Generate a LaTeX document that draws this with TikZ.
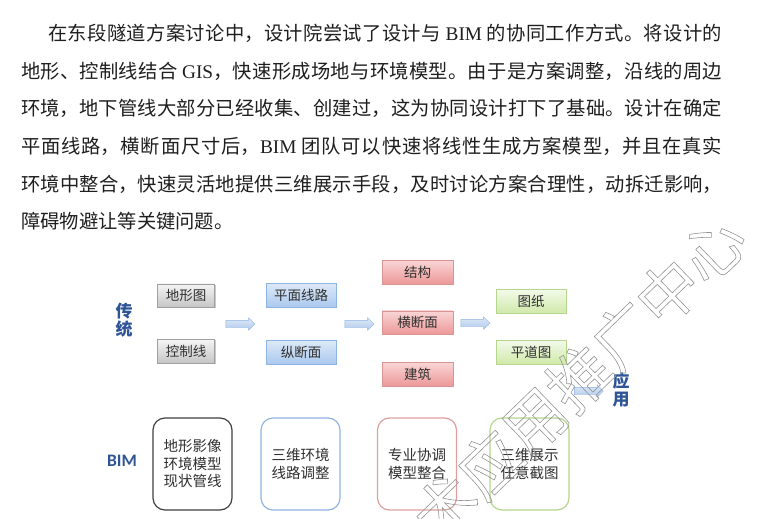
\documentclass[tikz,border=0pt]{standalone}
\usepackage{fontspec}
\setmainfont{Liberation Serif}
\newfontfamily\cjk{Noto Sans CJK SC}
\newfontfamily\calibri{Carlito}
\usetikzlibrary{shapes.arrows,shadows}
\XeTeXlinebreaklocale "zh"
\XeTeXlinebreakskip=0pt plus 2pt minus 0.3pt
\definecolor{labelblue}{HTML}{2F5597}
\definecolor{boxtext}{HTML}{303030}
\definecolor{graytop}{HTML}{F4F4F4}
\definecolor{graybot}{HTML}{C6C6C6}
\definecolor{graybd}{HTML}{A0A0A0}
\definecolor{bluetop}{HTML}{DDE9F8}
\definecolor{bluebot}{HTML}{ABC9EE}
\definecolor{bluebd}{HTML}{8EB4E3}
\definecolor{redtop}{HTML}{FAD6D6}
\definecolor{redbot}{HTML}{EC9898}
\definecolor{redbd}{HTML}{D99594}
\definecolor{greentop}{HTML}{F3FAEA}
\definecolor{greenbot}{HTML}{D1E9AB}
\definecolor{greenbd}{HTML}{B5D68C}
\definecolor{arrowtop}{HTML}{DDE8F6}
\definecolor{arrowbot}{HTML}{B1CBEE}
\definecolor{arrowbd}{HTML}{8EB4E3}

\begin{document}
\begin{tikzpicture}[x=1pt,y=-1pt,
  smallbox/.style={minimum height=23.5pt,inner sep=0pt,text=boxtext,
    font=\cjk\fontsize{13.5}{16}\selectfont,
    drop shadow={shadow xshift=1.2pt,shadow yshift=-1.2pt,opacity=.35,fill=black!60}},
  graybox/.style={smallbox,minimum width=57pt,draw=graybd,top color=graytop,bottom color=graybot},
  bluebox/.style={smallbox,minimum width=70pt,draw=bluebd,top color=bluetop,bottom color=bluebot},
  redbox/.style={smallbox,minimum width=71pt,draw=redbd,top color=redtop,bottom color=redbot},
  greenbox/.style={smallbox,minimum width=70pt,draw=greenbd,top color=greentop,bottom color=greenbot},
  flow/.style={single arrow,draw=arrowbd,top color=arrowtop,bottom color=arrowbot,
    minimum height=29pt,minimum width=12pt,inner sep=3.5pt,single arrow head extend=2.5pt},
  rbox/.style={draw=#1,line width=1.2pt,rounded corners=12pt,minimum width=79pt,minimum height=92pt,
    align=center,text=boxtext,font=\cjk\fontsize{14.5}{17.5}\selectfont},
  lab/.style={text=labelblue,inner sep=0pt,align=center,font=\cjk\bfseries\fontsize{17}{18}\selectfont}]
  \fill[white] (0,0) rectangle (760,519);
  \useasboundingbox (0,0) rectangle (760,519);
  \node[anchor=north west,text width=701pt,align=justify,inner sep=0pt,text=black!88,
    font=\cjk\fontsize{19.3}{37.7}\selectfont] (para) at (21,20.3)
    {\noindent\rule{0pt}{20pt}\hspace*{27pt}在东段隧道方案讨论中，设计院尝试了设计与 {\rmfamily BIM} 的协同工作方式。将设计的\linebreak
     地形、控制线结合 {\rmfamily GIS}，快速形成场地与环境模型。由于是方案调整，沿线的周边\linebreak
     环境，地下管线大部分已经收集、创建过，这为协同设计打下了基础。设计在确定\linebreak
     平面线路，横断面尺寸后，{\rmfamily BIM} 团队可以快速将线性生成方案模型，并且在真实\linebreak
     环境中整合，快速灵活地提供三维展示手段，及时讨论方案合理性，动拆迁影响，\linebreak
     障碍物避让等关键问题。};

  \node[lab] (trad) at (124,320) {传\\统};
  \node[graybox] (terrain) at (186,295.5) {地形图};
  \node[graybox] (ctrl) at (186,351) {控制线};
  \node[flow] (a1) at (238.5,324) {};
  \node[bluebox] (plan) at (301,295) {平面线路};
  \node[bluebox] (prof) at (301,352) {纵断面};
  \node[flow] (a2) at (357.5,324) {};
  \node[redbox] (struct) at (417.5,272) {结构};
  \node[redbox] (xsec) at (417.5,322.5) {横断面};
  \node[redbox] (arch) at (417.5,374) {建筑};
  \node[flow] (a3) at (473.5,323) {};
  \node[greenbox] (dwg) at (531,301) {图纸};
  \node[greenbox] (pdwg) at (531,352) {平道图};
  \node[flow] (a4) at (587,391) {};
  \node[lab] (apply) at (621,389.5) {应\\用};

  \node[text=labelblue,inner sep=0pt,font=\calibri\bfseries\fontsize{17.5}{18}\selectfont] (bim) at (122,461) {BIM};
  \node[rbox=black!75] (model) at (192.5,464) {地形影像\\环境模型\\现状管线};
  \node[rbox=bluebd] (route) at (300.5,464) {三维环境\\线路调整};
  \node[rbox=redbd!90] (coord) at (417,464) {专业协调\\模型整合};
  \node[rbox=greenbd] (show) at (529.5,464) {三维展示\\任意截图};

  \node[rotate=44,text=black!42,inner sep=0pt,font=\cjk\fontsize{62}{62}\selectfont] (mark) at (579,378)
    {\special{pdf:literal direct 1 Tr 0.6 w}术应用推广中心\special{pdf:literal direct 0 Tr}};
\end{tikzpicture}
\end{document}
